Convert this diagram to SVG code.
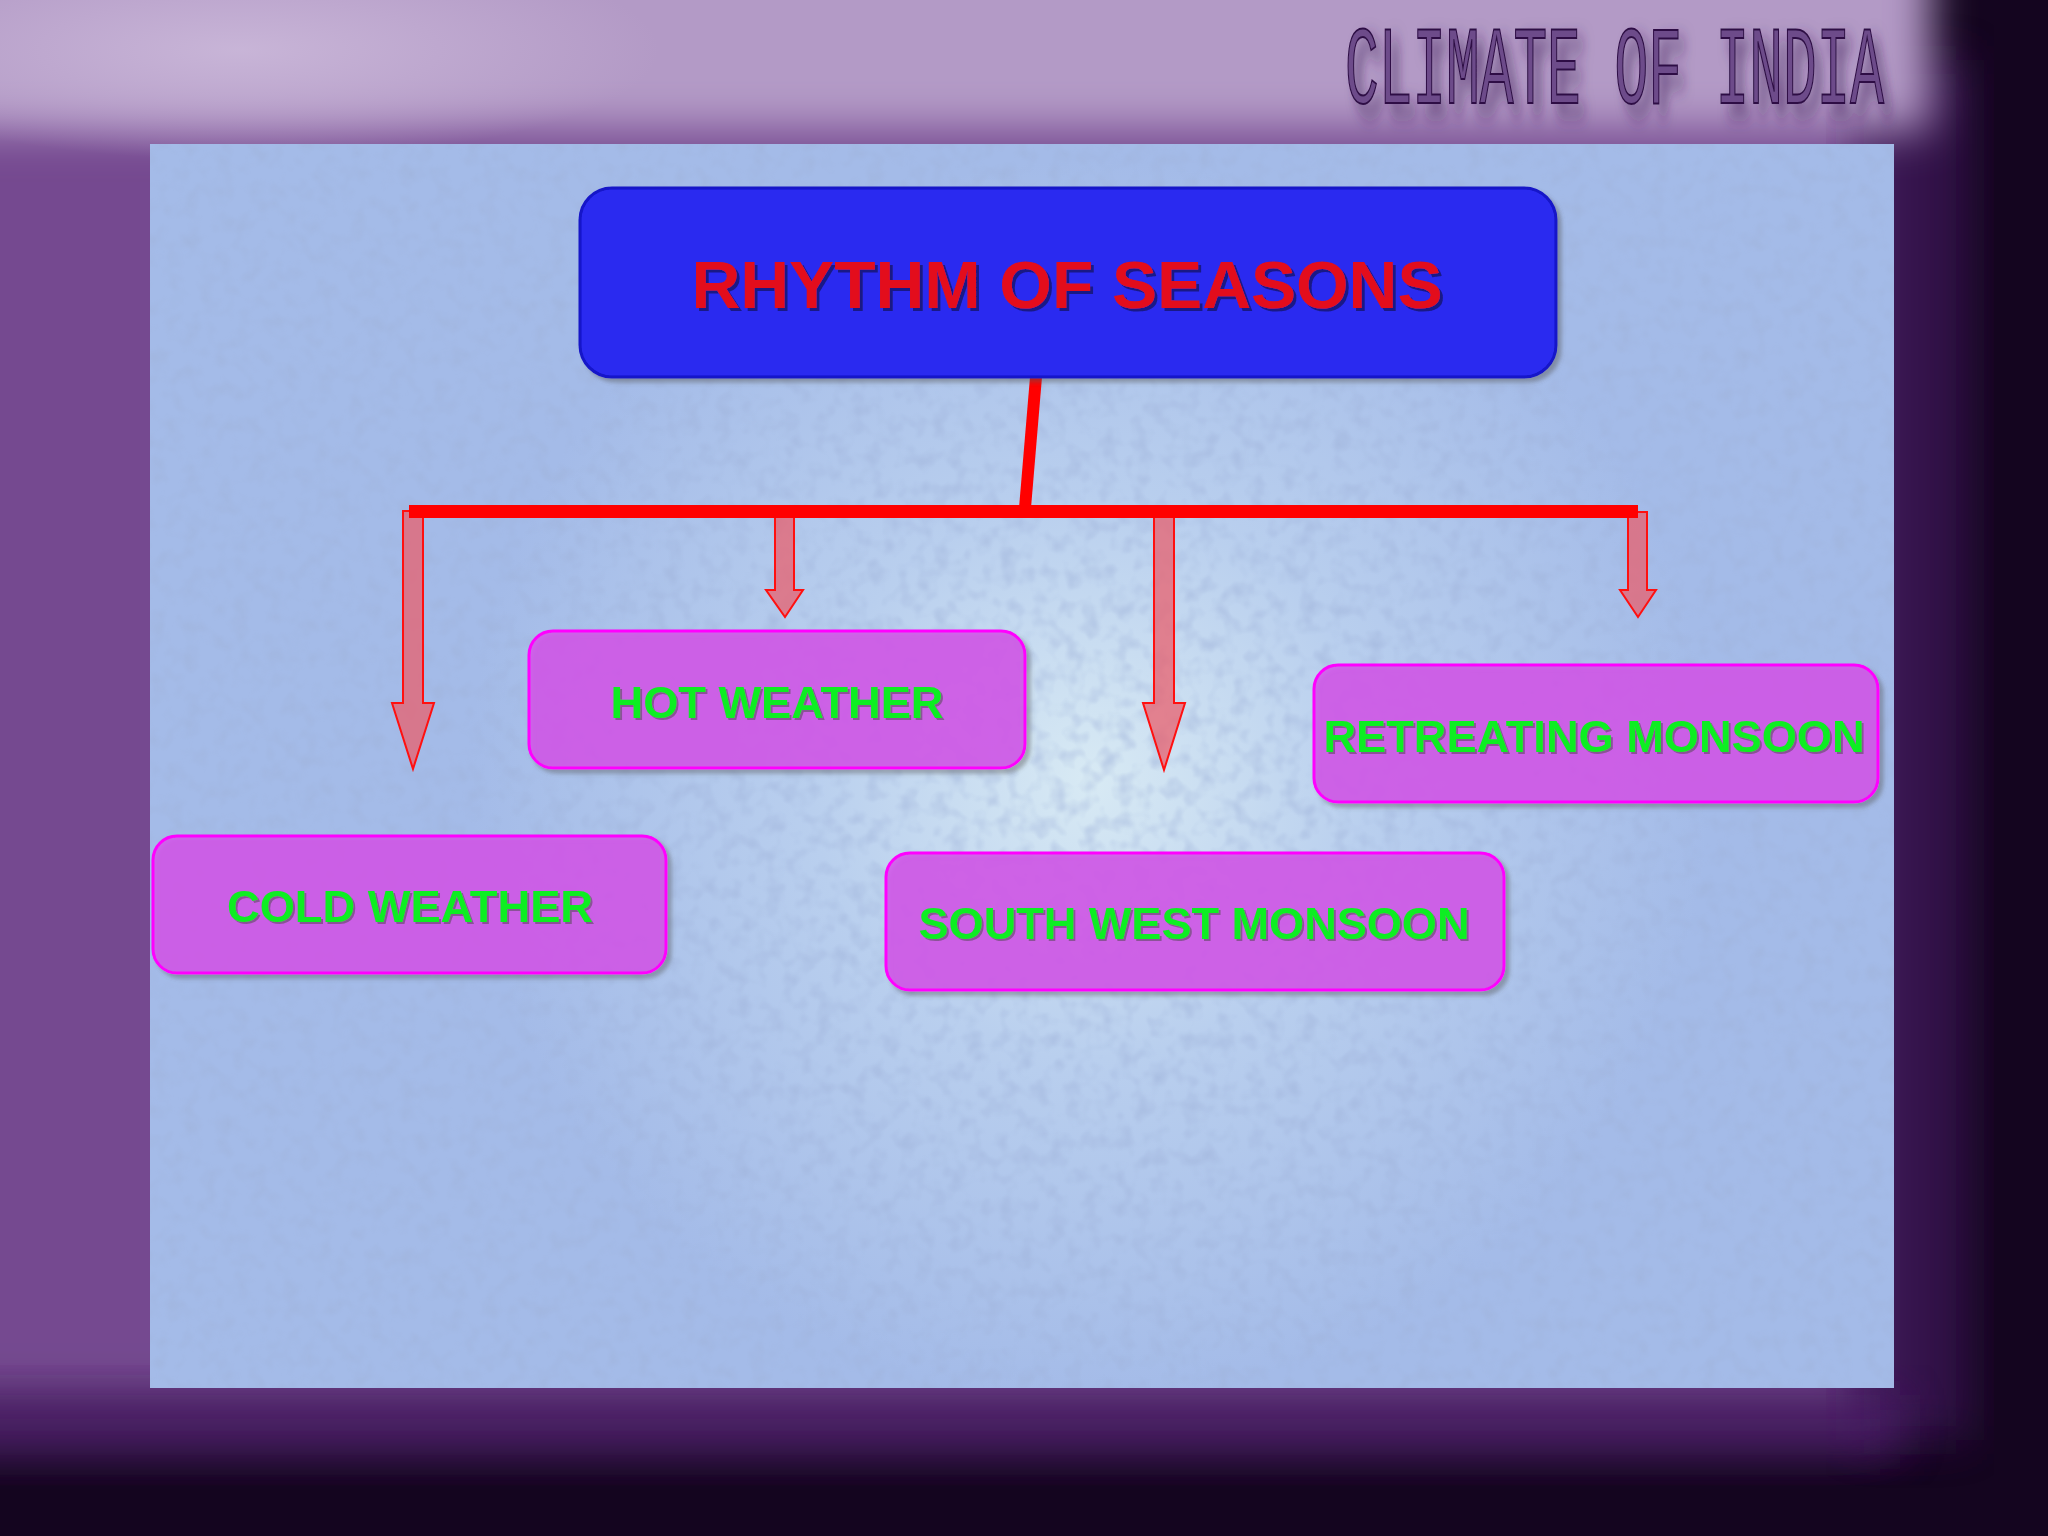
<svg xmlns="http://www.w3.org/2000/svg" width="2048" height="1536" viewBox="0 0 2048 1536">
  <defs>
    <radialGradient id="tlGlow" cx="0.5" cy="0.5" r="0.5">
      <stop offset="0" stop-color="#c9b6d8" stop-opacity="0.95"/>
      <stop offset="1" stop-color="#c9b6d8" stop-opacity="0"/>
    </radialGradient>
    <radialGradient id="panelGlow" cx="1090" cy="780" r="620" gradientUnits="userSpaceOnUse">
      <stop offset="0" stop-color="#d8eaf4"/>
      <stop offset="0.45" stop-color="#b9cfee"/>
      <stop offset="1" stop-color="#a4bbe8"/>
    </radialGradient>
    <filter id="texture" x="0" y="0" width="100%" height="100%">
      <feTurbulence type="fractalNoise" baseFrequency="0.06" numOctaves="2" seed="3" result="n"/>
      <feColorMatrix in="n" type="matrix" values="0 0 0 0 0.35  0 0 0 0 0.45  0 0 0 0 0.7  0 0 0 -2.2 1.25" result="c"/>
      <feComposite in="c" in2="SourceGraphic" operator="in"/>
    </filter>
    <filter id="blurBig" x="-20%" y="-20%" width="140%" height="140%">
      <feGaussianBlur stdDeviation="32"/>
    </filter>
    <filter id="blurMid" x="-20%" y="-50%" width="140%" height="200%">
      <feGaussianBlur stdDeviation="22"/>
    </filter>
    <filter id="titleShadow" x="-5%" y="-30%" width="115%" height="170%">
      <feDropShadow dx="7" dy="6" stdDeviation="5" flood-color="#3a1a55" flood-opacity="0.6"/>
    </filter>
    <filter id="rootTxtShadow" x="-5%" y="-20%" width="110%" height="140%">
      <feDropShadow dx="3" dy="3" stdDeviation="0.5" flood-color="#16167a" flood-opacity="0.9"/>
    </filter>
    <filter id="boxShadow" x="-5%" y="-10%" width="115%" height="130%">
      <feDropShadow dx="4" dy="4" stdDeviation="2" flood-color="#555" flood-opacity="0.45"/>
    </filter>
    <filter id="txtShadow" x="-5%" y="-20%" width="110%" height="140%">
      <feDropShadow dx="2" dy="2" stdDeviation="0.6" flood-color="#444" flood-opacity="0.5"/>
    </filter>
  </defs>
  <style>
    .season rect { fill: #d359ea; fill-opacity: 0.88; stroke: #ff00ff; stroke-width: 3; }
    .season text { font-family: "Liberation Sans", Arial, sans-serif; font-weight: bold; fill: #11ee22; text-anchor: middle; }
    .arrow { fill: #e8606e; fill-opacity: 0.75; stroke: #ff1010; stroke-width: 2; stroke-linejoin: miter; }
    .bar { fill: #ff0000; }
  </style>

  <!-- frame background -->
  <rect x="0" y="0" width="2048" height="1536" fill="#14051f"/>
  <rect x="-200" y="-200" width="2085" height="1620" fill="#744a90" filter="url(#blurBig)"/>
  <rect x="1850" y="60" width="120" height="1380" fill="#3e1258" filter="url(#blurMid)" opacity="0.7"/>
  <rect x="-200" y="-200" width="2130" height="330" fill="#b39ac6" filter="url(#blurMid)"/>
  <ellipse cx="240" cy="50" rx="420" ry="110" fill="url(#tlGlow)"/>
  <rect x="-100" y="1395" width="2000" height="60" fill="#4e1a6c" filter="url(#blurMid)" opacity="0.7"/>

  <!-- textured panel -->
  <rect x="150" y="144" width="1744" height="1244" fill="url(#panelGlow)"/>
  <rect x="150" y="144" width="1744" height="1244" fill="#ffffff" filter="url(#texture)" opacity="0.5"/>

  <!-- title -->
  <g id="title">
    <text transform="translate(1345,103) scale(1,1.92)" font-family="Liberation Mono, Courier New, monospace" font-size="58" textLength="539" lengthAdjust="spacingAndGlyphs" fill="#6d4c8a" stroke="#2e1045" stroke-width="1.6" vector-effect="non-scaling-stroke" filter="url(#titleShadow)">CLIMATE OF INDIA</text>
  </g>

  <!-- connectors -->
  <g id="connectors">
    <polygon class="arrow" points="403,511 423,511 423,703 434,703 413,769 392,703 403,703"/>
    <polygon class="arrow" points="775,512 794,512 794,590 803,590 785,617 766,590 775,590"/>
    <polygon class="arrow" points="1154,512 1174,512 1174,703 1185,703 1164,770 1143,703 1154,703"/>
    <polygon class="arrow" points="1628,512 1647,512 1647,590 1656,590 1638,617 1620,590 1628,590"/>
    <polygon class="bar" points="1030,377 1042,377 1031,508 1019,508"/>
    <rect class="bar" x="409" y="505" width="1229" height="13"/>
  </g>

  <!-- root node -->
  <g id="node-root">
    <rect x="580" y="188" width="976" height="189" rx="32" fill="#2b2bf0" stroke="#1515c8" stroke-width="3" filter="url(#boxShadow)"/>
    <text x="1067" y="308" font-family="Liberation Sans, Arial, sans-serif" font-weight="bold" font-size="67" text-anchor="middle" textLength="751" lengthAdjust="spacingAndGlyphs" fill="#e3101c" filter="url(#rootTxtShadow)">RHYTHM OF SEASONS</text>
  </g>

  <g id="node-hot" class="season">
    <rect x="529" y="631" width="496" height="137" rx="24" filter="url(#boxShadow)"/>
    <text x="777" y="718" font-size="44" textLength="333" lengthAdjust="spacingAndGlyphs" filter="url(#txtShadow)">HOT WEATHER</text>
  </g>

  <g id="node-retreating" class="season">
    <rect x="1314" y="665" width="564" height="137" rx="24" filter="url(#boxShadow)"/>
    <text x="1594" y="752" font-size="45" textLength="541" lengthAdjust="spacingAndGlyphs" filter="url(#txtShadow)">RETREATING MONSOON</text>
  </g>

  <g id="node-cold" class="season">
    <rect x="153" y="836" width="513" height="137" rx="24" filter="url(#boxShadow)"/>
    <text x="410" y="922" font-size="44" textLength="366" lengthAdjust="spacingAndGlyphs" filter="url(#txtShadow)">COLD WEATHER</text>
  </g>

  <g id="node-southwest" class="season">
    <rect x="886" y="853" width="618" height="137" rx="24" filter="url(#boxShadow)"/>
    <text x="1194" y="939" font-size="45" textLength="551" lengthAdjust="spacingAndGlyphs" filter="url(#txtShadow)">SOUTH WEST MONSOON</text>
  </g>
</svg>
